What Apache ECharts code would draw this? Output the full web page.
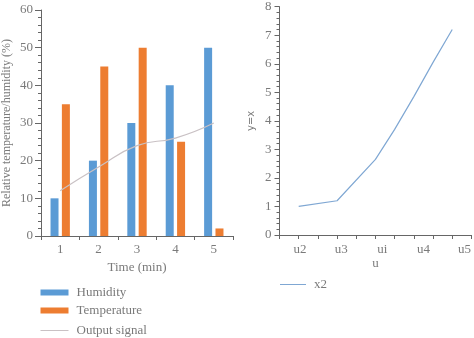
<!DOCTYPE html>
<html>
<head>
<meta charset="utf-8">
<script src="https://cdn.jsdelivr.net/npm/echarts@6/dist/echarts.min.js"></script>
<style>
  html, body { margin: 0; padding: 0; background: #fff; }
  #chart { width: 474px; height: 338px; }
</style>
</head>
<body>
<div id="chart"></div>
<script>
// Left panel: humidity / temperature bars with the output signal curve
const timeCategories = ['1', '2', '3', '4', '5'];
const humidity = [10, 20, 30, 40, 50];
const temperature = [35, 45, 50, 25, 2];
const outputSignal = [12, 18.3, 24, 26, 30];

// Right panel: x2 curve against u
const uPositions = [1, 3, 5, 6, 7, 8, 9];
const x2Values = [1, 1.2, 2.65, 3.7, 4.85, 6.05, 7.2];
const uLabels = ['u2', 'u3', 'ui', 'u4', 'u5'];

const SERIF = '"Liberation Serif", "DejaVu Serif", serif';
const TEXT = '#7a7a7a';
const AXIS = '#666';
const BLUE = '#5b9bd5';
const ORANGE = '#ed7d31';
const SIGNAL = '#c9c1c4';
const CURVE = '#7fa7d3';

const axisLine = { lineStyle: { color: AXIS, width: 1 } };
const axisLabel = { color: TEXT, fontFamily: SERIF, fontSize: 13 };
const legendText = { color: TEXT, fontFamily: SERIF, fontSize: 13, padding: [0, 0, 0, 3] };

// u labels sit on a finer label track: one label every third slot, starting at slot 1
const uSlots = [];
for (let i = 0; i < 14; i++) {
  uSlots.push(i % 3 === 1 ? uLabels[(i - 1) / 3] : '');
}

// one legend block per entry so each row sits at its own height
function legendRow(name, top, left, iconW, iconH) {
  return {
    left: left, top: top, padding: 0, itemWidth: iconW, itemHeight: iconH,
    icon: 'rect', textStyle: legendText, data: [name]
  };
}

const chart = echarts.init(document.getElementById('chart'), null, { renderer: 'canvas' });

chart.setOption({
  animation: false,
  backgroundColor: '#fff',
  textStyle: { fontFamily: SERIF },
  grid: [
    { left: 40.5, right: 241, top: 10, bottom: 102 },
    { left: 279.5, right: 0.5, top: 6.7, bottom: 103 }
  ],
  legend: [
    legendRow('Humidity', 286, 40.5, 28, 6),
    legendRow('Temperature', 304, 40.5, 28, 6),
    legendRow('Output signal', 324, 40.5, 28, 1),
    legendRow('x2', 278, 280, 26, 1)
  ],
  xAxis: [
    {
      gridIndex: 0, type: 'category', data: timeCategories,
      name: 'Time (min)', nameLocation: 'middle', nameGap: 23,
      nameTextStyle: { color: TEXT, fontFamily: SERIF, fontSize: 13 },
      axisLine: axisLine,
      axisTick: { show: true, length: 4, lineStyle: { color: AXIS } },
      axisLabel: Object.assign({ margin: 7 }, axisLabel)
    },
    {
      gridIndex: 1, type: 'value', min: 0, max: 10, interval: 1, position: 'bottom',
      name: 'u', nameLocation: 'middle', nameGap: 22,
      nameTextStyle: { color: TEXT, fontFamily: SERIF, fontSize: 13 },
      axisLine: axisLine,
      axisTick: { show: true, length: 4, lineStyle: { color: AXIS } },
      axisLabel: { show: false },
      splitLine: { show: false }
    },
    {
      gridIndex: 1, type: 'category', data: uSlots, position: 'bottom',
      axisLine: { show: false }, axisTick: { show: false },
      axisLabel: Object.assign({ margin: 8, interval: 0 }, axisLabel)
    }
  ],
  yAxis: [
    {
      gridIndex: 0, type: 'value', min: 0, max: 60, interval: 10,
      name: 'Relative temperature/humidity (%)', nameLocation: 'middle', nameGap: 28,
      nameTextStyle: { color: TEXT, fontFamily: SERIF, fontSize: 12 },
      axisLine: { show: true, lineStyle: { color: AXIS } },
      axisTick: { show: true, length: 6, lineStyle: { color: AXIS } },
      minorTick: { show: true, splitNumber: 5, length: 3, lineStyle: { color: AXIS } },
      axisLabel: Object.assign({ margin: 8 }, axisLabel),
      splitLine: { show: false }
    },
    {
      gridIndex: 1, type: 'value', min: 0, max: 8, interval: 1,
      name: 'y=x', nameLocation: 'middle', nameGap: 23,
      nameTextStyle: { color: TEXT, fontFamily: '"DejaVu Sans", sans-serif', fontSize: 10 },
      axisLine: { show: true, lineStyle: { color: AXIS } },
      axisTick: { show: true, length: 5, lineStyle: { color: AXIS } },
      minorTick: { show: true, splitNumber: 5, length: 3, lineStyle: { color: AXIS } },
      axisLabel: Object.assign({ margin: 8 }, axisLabel),
      splitLine: { show: false }
    }
  ],
  series: [
    {
      name: 'Humidity', type: 'bar', xAxisIndex: 0, yAxisIndex: 0,
      data: humidity, barWidth: 8, barGap: '42%',
      itemStyle: { color: BLUE }
    },
    {
      name: 'Temperature', type: 'bar', xAxisIndex: 0, yAxisIndex: 0,
      data: temperature, barWidth: 8, barGap: '42%',
      itemStyle: { color: ORANGE }
    },
    {
      name: 'Output signal', type: 'line', xAxisIndex: 0, yAxisIndex: 0,
      data: outputSignal, smooth: true, symbol: 'none',
      lineStyle: { color: SIGNAL, width: 1.2 },
      itemStyle: { color: SIGNAL }
    },
    {
      name: 'x2', type: 'line', xAxisIndex: 1, yAxisIndex: 1,
      data: uPositions.map((u, i) => [u, x2Values[i]]),
      symbol: 'none',
      lineStyle: { color: CURVE, width: 1.2 },
      itemStyle: { color: CURVE }
    }
  ]
});
</script>
</body>
</html>
